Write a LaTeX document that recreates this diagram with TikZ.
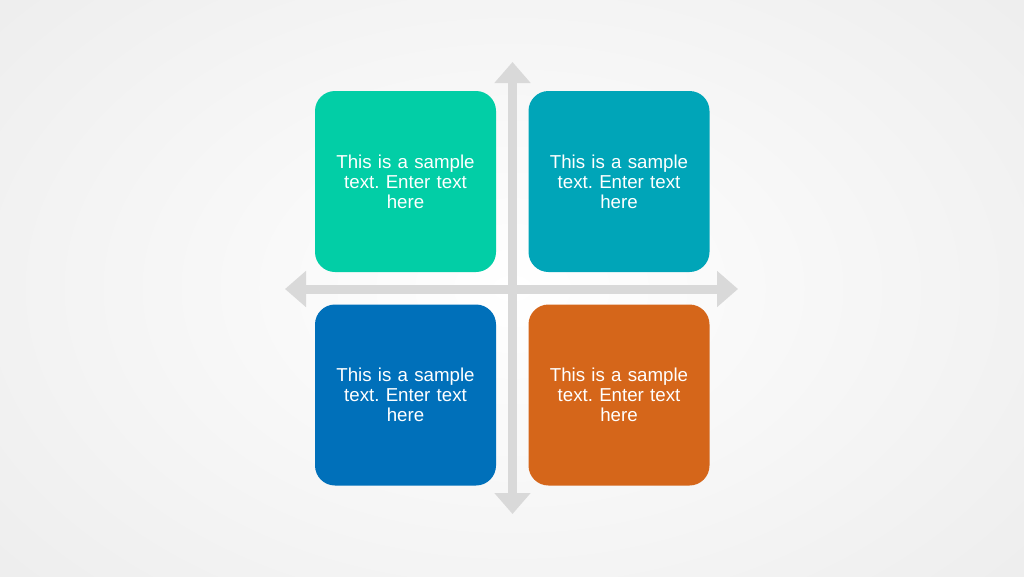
\documentclass[tikz,border=0pt]{standalone}
\usepackage{fontspec}
\setmainfont{Liberation Sans}
\usetikzlibrary{arrows.meta}
\frenchspacing
\definecolor{cgreen}{RGB}{2,206,166}
\definecolor{cteal}{RGB}{0,165,184}
\definecolor{cblue}{RGB}{0,112,186}
\definecolor{corange}{RGB}{213,102,26}
\definecolor{caxis}{RGB}{217,217,217}
\definecolor{cbg}{RGB}{238,238,238}
\tikzset{
  quad/.style={rounded corners=20pt, minimum width=181pt, minimum height=181pt,
    inner sep=0pt, text=white, align=center, text width=160pt,
    font=\fontsize{18.7}{20}\selectfont},
  axisline/.style={draw=caxis, line width=9pt,
    {Triangle[length=21pt,width=35pt]}-{Triangle[length=21pt,width=35pt]}}
}
\begin{document}
\begin{tikzpicture}[x=1pt,y=-1pt]
\useasboundingbox (0,0) rectangle (1024,576);
\shade[inner color=white, outer color=cbg] (-150,-150) rectangle (1174,726);
\coordinate (vt) at (512.5,62);
\coordinate (vb) at (512.5,514);
\coordinate (hl) at (285,289);
\coordinate (hr) at (738,289);
\draw[axisline] (vt) -- (vb);
\draw[axisline] (hl) -- (hr);
\node[quad, fill=cgreen] (q1) at (405.5,181.5) {\raisebox{1pt}{\parbox{160pt}{\centering This is a sample\\text. Enter text\\here}}};
\node[quad, fill=cteal] (q2) at (619,181.5) {\raisebox{1pt}{\parbox{160pt}{\centering This is a sample\\text. Enter text\\here}}};
\node[quad, fill=cblue] (q3) at (405.5,395) {\raisebox{1pt}{\parbox{160pt}{\centering This is a sample\\text. Enter text\\here}}};
\node[quad, fill=corange] (q4) at (619,395) {\raisebox{1pt}{\parbox{160pt}{\centering This is a sample\\text. Enter text\\here}}};
\end{tikzpicture}
\end{document}
